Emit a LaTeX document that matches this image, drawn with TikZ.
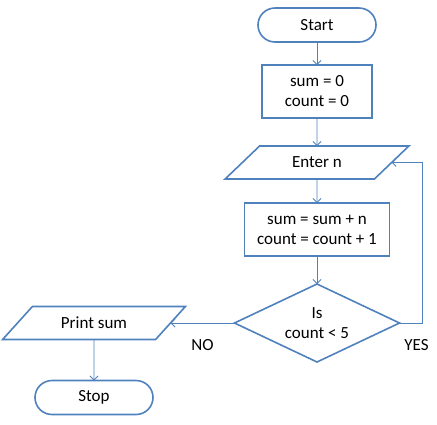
\documentclass[tikz,border=0pt]{standalone}
\usepackage{fontspec}
\setmainfont{Carlito}
\usetikzlibrary{shapes.geometric, arrows.meta, positioning}
\definecolor{flowblue}{RGB}{79,129,189}

\begin{document}
\begin{tikzpicture}[
    x=1pt, y=1pt,
    font=\fontsize{17}{20}\selectfont,
    termbox/.style={draw=flowblue, line width=1.6pt, outer sep=0pt, rounded corners=17pt, minimum width=118pt, minimum height=34pt, inner sep=1pt},
    procbox/.style={draw=flowblue, line width=1.6pt, outer sep=0pt, align=center, minimum height=53pt, inner sep=1pt},
    iobox/.style={draw=flowblue, line width=1.6pt, outer sep=0pt, trapezium, trapezium left angle=40, trapezium right angle=140, trapezium stretches=true, minimum height=33pt, inner sep=1pt},
    decbox/.style={draw=flowblue, line width=1.6pt, outer sep=0pt, diamond, aspect=2.1, align=center, minimum width=165pt, minimum height=78pt, inner sep=0pt},
    arr/.style={-{Straight Barb[length=4pt, width=8pt]}, draw=flowblue, line width=0.8pt},
    lbl/.style={inner sep=0pt},
]
\useasboundingbox (0,0) rectangle (437,-424);

% main column
\node[termbox] (start) at (317,-25) {Start};
\node[procbox, minimum width=110pt, below=23pt of start] (init) {sum = 0\\ count = 0};
\node[iobox, minimum width=185pt, below=28pt of init] (enter) {Enter n};
\node[procbox, minimum width=145pt, below=24pt of enter] (update) {sum = sum + n\\ count = count + 1};
\node[decbox, below=28pt of update] (check) {Is\\ count < 5};

% exit branch
\node[iobox, minimum width=183pt, left=64pt of check] (print) {Print sum};
\node[termbox, below=41pt of print] (stop) {Stop};

% arrows
\draw[arr] (start) -- (init);
\draw[arr] (init) -- (enter);
\draw[arr] (enter) -- (update);
\draw[arr] (update) -- (check);
\draw[arr] (check.west) -- node[lbl, below=16pt] {NO} (print.east);
\draw[arr] (print) -- (stop);
\draw[arr] (check.east) -- ++(23,0) node[lbl, below=16pt, xshift=-6pt] {YES} |- (enter.east);
\end{tikzpicture}
\end{document}
